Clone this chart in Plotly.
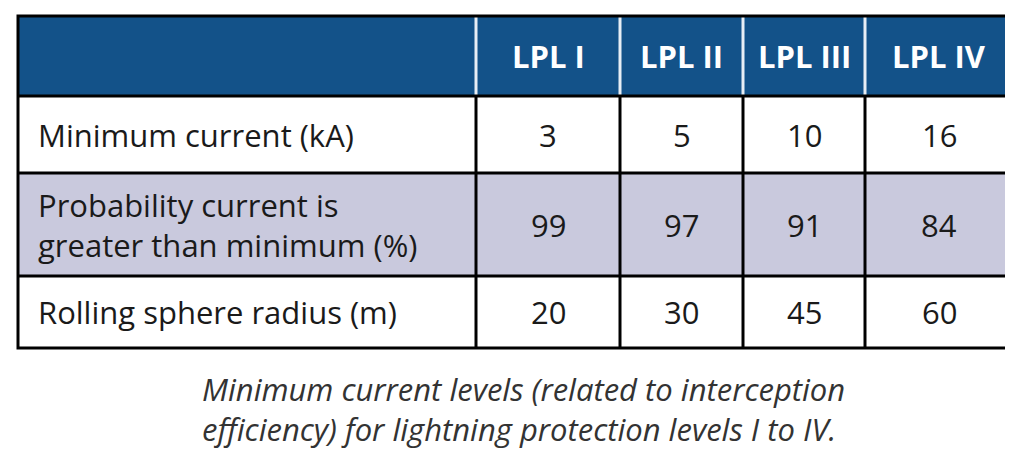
import plotly.graph_objects as go

header = ["", "LPL I", "LPL II", "LPL III", "LPL IV"]
row_labels = ["Minimum current (kA)", "Probability current is<br>greater than minimum (%)", "Rolling sphere radius (m)"]
lpl1 = ["3", "99", "20"]
lpl2 = ["5", "97", "30"]
lpl3 = ["10", "91", "45"]
lpl4 = ["16", "84", "60"]
caption = "Minimum current levels (related to interception<br>efficiency) for lightning protection levels I to IV."

W, H = 1013, 456
colx = [10, 468, 612, 735, 857, 1005]
rowy = [8, 88, 165, 268, 340]
fills = ["#135289", "white", "#c9c9dd", "white"]
FONT = "Open Sans"

fig = go.Figure()
shapes, ann = [], []
columns = [row_labels, lpl1, lpl2, lpl3, lpl4]
for r in range(4):
    shapes.append(dict(type="rect", x0=colx[0], x1=colx[-1], y0=rowy[r], y1=rowy[r+1],
                       fillcolor=fills[r], line=dict(width=0), layer="below"))
    for c in range(5):
        txt = f"<b>{header[c]}</b>" if r == 0 else columns[c][r-1]
        if not txt or txt == "<b></b>":
            continue
        left = c == 0
        ann.append(dict(text=txt, x=(colx[0] + 18) if left else (colx[c] + colx[c+1]) / 2,
                        y=(rowy[r] + rowy[r+1]) / 2, xanchor="left" if left else "center",
                        yanchor="middle", align="left", showarrow=False,
                        font=dict(family=FONT, size=31, color="white" if r == 0 else "#1a1a1a")))
# grid lines
for c in range(1, 5):
    shapes.append(dict(type="line", x0=colx[c], x1=colx[c], y0=rowy[0], y1=rowy[1], line=dict(color="#e8eef5", width=3)))
    shapes.append(dict(type="line", x0=colx[c], x1=colx[c], y0=rowy[1], y1=rowy[-1], line=dict(color="black", width=3)))
for r in range(1, 4):
    shapes.append(dict(type="line", x0=colx[0], x1=colx[-1], y0=rowy[r], y1=rowy[r], line=dict(color="black", width=3)))
shapes.append(dict(type="rect", x0=colx[0], x1=colx[-1], y0=rowy[0], y1=rowy[-1], line=dict(color="black", width=3)))

ann.append(dict(text=f"<i>{caption}</i>", x=515, y=401, xanchor="center", yanchor="middle",
                showarrow=False, align="left", font=dict(family=FONT, size=31, color="#333333")))

fig.update_layout(width=W, height=H, margin=dict(l=0, r=0, t=0, b=0), paper_bgcolor="white",
                  plot_bgcolor="white", shapes=shapes, annotations=ann,
                  xaxis=dict(range=[0, W], visible=False, fixedrange=True),
                  yaxis=dict(range=[H, 0], visible=False, fixedrange=True))
fig.write_html("out.html")
